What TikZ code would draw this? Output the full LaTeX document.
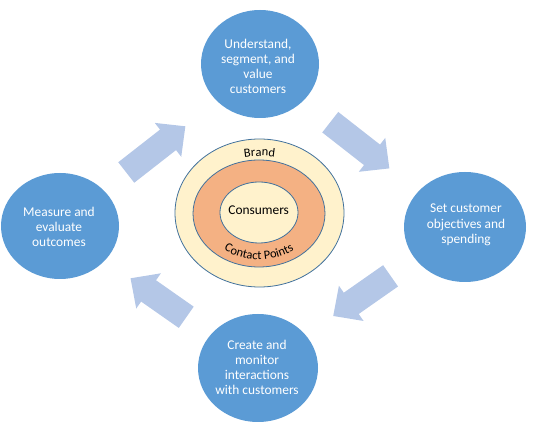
\documentclass[tikz,border=0pt]{standalone}
\usepackage{fontspec}
\setmainfont{Carlito}
\usetikzlibrary{shapes.geometric,decorations.text}
\definecolor{bluefill}{HTML}{5B9BD5}
\definecolor{ringline}{HTML}{41719C}
\definecolor{arrowc}{HTML}{B4C7E7}
\definecolor{cream}{HTML}{FFF2CC}
\definecolor{peach}{HTML}{F4B183}
\tikzset{
  stepcircle/.style={ellipse, fill=bluefill, draw=none, inner sep=0pt},
  steptext/.style={align=center, text=white, font=\fontsize{13.4}{15.2}\selectfont, inner sep=0pt},
  ring/.style={ellipse, draw=ringline, line width=0.8pt, inner sep=0pt},
  centertext/.style={text=black, font=\fontsize{13.4}{15.2}\selectfont, inner sep=0pt},
  pics/blockarrow/.style={code={
    \fill[arrowc] (-#1/2,-13) -- (#1/2-22,-13) -- (#1/2-22,-21.5) -- (#1/2,0)
      -- (#1/2-22,21.5) -- (#1/2-22,13) -- (-#1/2,13) -- cycle;}}
}
\begin{document}
\begin{tikzpicture}[x=1pt,y=1pt]
\useasboundingbox (0,0) rectangle (536,442);
% step circles
\node[stepcircle, minimum width=118pt, minimum height=108pt] (top) at (260,378) {};
\node[stepcircle, minimum width=122pt, minimum height=110pt] (right) at (465,215) {};
\node[stepcircle, minimum width=120pt, minimum height=108pt] (bottom) at (258,74) {};
\node[stepcircle, minimum width=118pt, minimum height=106pt] (left) at (60,216) {};
\node[steptext] (ttop) at (258,375.5) {Understand,\\segment, and\\value\\customers};
\node[steptext] (tright) at (466,217) {Set customer\\objectives and\\spending};
\node[steptext] (tbottom) at (257,74.5) {Create and\\monitor\\interactions\\with customers};
\node[steptext] (tleft) at (59,215) {Measure and\\evaluate\\outcomes};
% arrows
\pic[rotate=38] (a1) at (155.8,292.6) {blockarrow=75};
\pic[rotate=-38] (a2) at (359.8,296.7) {blockarrow=75};
\pic[rotate=215] (a3) at (361.9,146.1) {blockarrow=70};
\pic[rotate=145] (a4) at (158.4,144.2) {blockarrow=68};
% central rings
\node[ring, fill=cream, minimum width=169pt, minimum height=148pt] (brand) at (259.5,229) {};
\node[ring, fill=peach, minimum width=132pt, minimum height=107pt] (contact) at (259,228.5) {};
\node[ring, fill=cream, minimum width=78pt, minimum height=61pt] (consumer) at (259,229.5) {};
\node[centertext] (tcons) at (258.7,231.3) {Consumers};
\path[decorate, decoration={text along path, text align=center,
  text={|\fontsize{12.5}{14}\selectfont|Brand}}]
  (259.5,229) ++(120:75pt and 57pt) arc[start angle=120, end angle=60, x radius=75pt, y radius=57pt];
\path[decorate, decoration={text along path, text align=center,
  text={|\fontsize{12.5}{14}\selectfont|Contact Points}}]
  (259,228.5) ++(205:57pt and 46pt) arc[start angle=205, end angle=335, x radius=57pt, y radius=46pt];
\end{tikzpicture}
\end{document}
